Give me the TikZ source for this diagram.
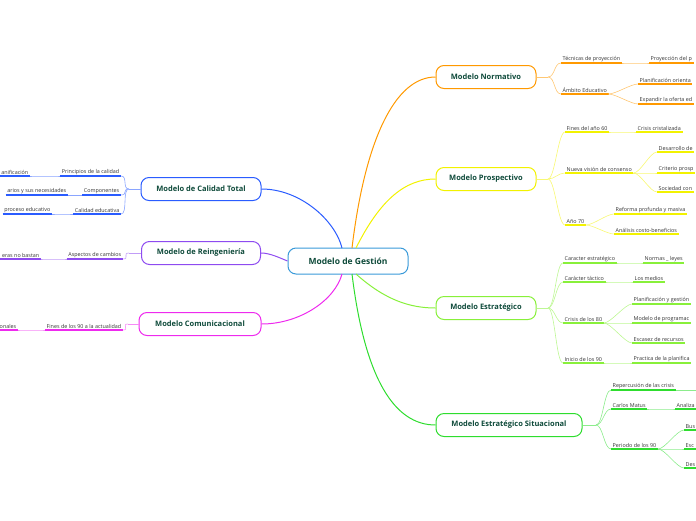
\documentclass[tikz,border=0pt]{standalone}
\usepackage{fontspec}
\setmainfont{Open Sans}
\definecolor{cOr}{HTML}{FF9900}
\definecolor{cYe}{HTML}{F2F200}
\definecolor{cLg}{HTML}{88F03A}
\definecolor{cGr}{HTML}{2EDD2E}
\definecolor{cBl}{HTML}{2A5CFF}
\definecolor{cPu}{HTML}{8E4BF0}
\definecolor{cMa}{HTML}{EE2AEE}
\definecolor{cCe}{HTML}{3A9AD9}
\definecolor{tx}{HTML}{0E4A3A}
\tikzset{
 mainbox/.style={draw=#1,line width=1pt,rounded corners=8pt,fill=white,font=\fontsize{7.5}{9}\selectfont\bfseries,text=tx,minimum height=23pt,inner xsep=8pt},
 lf/.style={font=\fontsize{5.4}{6}\selectfont,text=black!80,inner xsep=1.5pt,inner ysep=1.5pt},
 ul/.style={line width=1.3pt,#1},
 cn/.style={line width=0.6pt,#1!55},
}
% right leaf: name, x, y(underline), text, colour
\newcommand\rleaf[5]{\node[lf,anchor=south west] (#1) at (#2,#3) {#4};\draw[ul=#5] (#1.south west)--(#1.south east);}
\newcommand\lleaf[5]{\node[lf,anchor=south east] (#1) at (#2,#3) {#4};\draw[ul=#5] (#1.south west)--(#1.south east);}
\newcommand\rc[3]{\draw[cn=#3] (#1) .. controls +(7,0) and +(-7,0) .. (#2.south west);}
\newcommand\lc[3]{\draw[cn=#3] (#1) .. controls +(-7,0) and +(7,0) .. (#2.south east);}
\begin{document}
\begin{tikzpicture}[x=1pt,y=-1pt]
\useasboundingbox (0,0) rectangle (696,520);
\node[mainbox=cCe,font=\fontsize{8.5}{10}\selectfont\bfseries,minimum width=120pt,minimum height=26pt] (c) at (348,261) {Modelo de Gestión};
\node[mainbox=cOr,minimum width=100pt] (n) at (486,77) {Modelo Normativo};
\node[mainbox=cYe,minimum width=100pt] (p) at (486,179) {Modelo Prospectivo};
\node[mainbox=cLg,minimum width=100pt] (e) at (486,308) {Modelo Estratégico};
\node[mainbox=cGr,minimum width=146pt] (s) at (509,425) {Modelo Estratégico Situacional};
\node[mainbox=cBl,minimum width=120pt] (q) at (201,189) {Modelo de Calidad Total};
\node[mainbox=cPu,minimum width=119pt] (r) at (201,253) {Modelo de Reingeniería};
\node[mainbox=cMa,minimum width=122pt] (m) at (200,324) {Modelo Comunicacional};
% center connectors
\draw[line width=1pt,cOr] (352,248) .. controls (365,140) and (395,77) .. (n.west);
\draw[line width=1pt,cYe] (356,248) .. controls (380,200) and (405,179) .. (p.west);
\draw[line width=1pt,cLg] (356,274) .. controls (385,300) and (410,308) .. (e.west);
\draw[line width=1pt,cGr] (352,274) .. controls (365,380) and (395,425) .. (s.west);
\draw[line width=1pt,cBl] (q.east) .. controls (300,189) and (335,220) .. (342,248);
\draw[line width=1pt,cPu] (r.east) .. controls (270,253) and (280,258) .. (c.west);
\draw[line width=1pt,cMa] (m.east) .. controls (300,324) and (335,300) .. (342,274);
% Normativo
\coordinate (nb) at (548,77); \draw[cn=cOr,line width=1pt] (n.east)--(nb);
\rleaf{n1}{561}{63}{Técnicas de proyección}{cOr}
\rleaf{n2}{561}{94}{Ámbito Educativo}{cOr}
\rc{nb}{n1}{cOr}\rc{nb}{n2}{cOr}
\rleaf{n11}{649}{63}{Proyección del p}{cOr}\rc{n1.south east}{n11}{cOr}
\rleaf{n21}{638}{84}{Planificación orienta}{cOr}
\rleaf{n22}{638}{104}{Expandir la oferta ed}{cOr}
\rc{n2.south east}{n21}{cOr}\rc{n2.south east}{n22}{cOr}
% Prospectivo
\coordinate (pb) at (548,179); \draw[cn=cYe,line width=1pt] (p.east)--(pb);
\rleaf{p1}{565}{132}{Fines del año 60}{cYe}
\rleaf{p2}{565}{173}{Nueva visión de consenso}{cYe}
\rleaf{p3}{565}{225}{Año 70}{cYe}
\rc{pb}{p1}{cYe}\rc{pb}{p2}{cYe}\rc{pb}{p3}{cYe}
\rleaf{p11}{636}{132}{Crisis cristalizada}{cYe}\rc{p1.south east}{p11}{cYe}
\rleaf{p21}{657}{152}{Desarrollo de}{cYe}
\rleaf{p22}{657}{173}{Criterio prosp}{cYe}
\rleaf{p23}{657}{192}{Sociedad con}{cYe}
\rc{p2.south east}{p21}{cYe}\rc{p2.south east}{p22}{cYe}\rc{p2.south east}{p23}{cYe}
\rleaf{p31}{614}{214}{Reforma profunda y masiva}{cYe}
\rleaf{p32}{614}{234}{Análisis costo-beneficios}{cYe}
\rc{p3.south east}{p31}{cYe}\rc{p3.south east}{p32}{cYe}
% Estrategico
\coordinate (eb) at (548,308); \draw[cn=cLg,line width=1pt] (e.east)--(eb);
\rleaf{e1}{563}{263}{Caracter estratégico}{cLg}
\rleaf{e2}{563}{282}{Carácter táctico}{cLg}
\rleaf{e3}{563}{323}{Crisis de los 80}{cLg}
\rleaf{e4}{563}{363}{Inicio de los 90}{cLg}
\rc{eb}{e1}{cLg}\rc{eb}{e2}{cLg}\rc{eb}{e3}{cLg}\rc{eb}{e4}{cLg}
\rleaf{e11}{643}{263}{Normas \_ leyes}{cLg}\rc{e1.south east}{e11}{cLg}
\rleaf{e21}{633}{282}{Los medios}{cLg}\rc{e2.south east}{e21}{cLg}
\rleaf{e31}{632}{304}{Planificación y gestión}{cLg}
\rleaf{e32}{632}{323}{Modelo de programac}{cLg}
\rleaf{e33}{632}{343}{Escasez de recursos}{cLg}
\rc{e3.south east}{e31}{cLg}\rc{e3.south east}{e32}{cLg}\rc{e3.south east}{e33}{cLg}
\rleaf{e41}{632}{363}{Practica de la planifica}{cLg}\rc{e4.south east}{e41}{cLg}
% Situacional
\coordinate (sb) at (596,425); \draw[cn=cGr,line width=1pt] (s.east)--(sb);
\rleaf{s1}{611}{390}{Repercusión de las crisis}{cGr}
\rleaf{s2}{611}{409}{Carlos Matus}{cGr}
\rleaf{s3}{611}{449}{Periodo de los 90}{cGr}
\rc{sb}{s1}{cGr}\rc{sb}{s2}{cGr}\rc{sb}{s3}{cGr}
\draw[cn=cGr] (s1.south east)--(696,390);
\rleaf{s21}{675}{409}{Analiza}{cGr}\rc{s2.south east}{s21}{cGr}
\rleaf{s31}{684}{430}{Bus}{cGr}
\rleaf{s32}{684}{449}{Esc}{cGr}
\rleaf{s33}{684}{468}{Des}{cGr}
\rc{s3.south east}{s31}{cGr}\rc{s3.south east}{s32}{cGr}\rc{s3.south east}{s33}{cGr}
% Calidad total
\coordinate (qb) at (129,189); \draw[cn=cBl,line width=1pt] (q.west)--(qb);
\lleaf{q1}{121}{176}{Principios de la calidad}{cBl}
\lleaf{q2}{121}{195}{Componentes}{cBl}
\lleaf{q3}{121}{214}{Calidad educativa}{cBl}
\lc{qb}{q1}{cBl}\lc{qb}{q2}{cBl}\lc{qb}{q3}{cBl}
\lleaf{q11}{30}{176}{anificación}{cBl}\lc{q1.south west}{q11}{cBl}
\lleaf{q21}{68}{195}{arios y sus necesidades}{cBl}\lc{q2.south west}{q21}{cBl}
\lleaf{q31}{52}{214}{proceso educativo}{cBl}\lc{q3.south west}{q31}{cBl}
% Reingenieria
\coordinate (rb) at (129,253); \draw[cn=cPu,line width=1pt] (r.west)--(rb);
\lleaf{r1}{123}{259}{Aspectos de cambios}{cPu}\lc{rb}{r1}{cPu}
\lleaf{r11}{41}{259}{eras no bastan}{cPu}\lc{r1.south west}{r11}{cPu}
% Comunicacional
\coordinate (mb) at (128,324); \draw[cn=cMa,line width=1pt] (m.west)--(mb);
\lleaf{m1}{123}{330}{Fines de los 90 a la actualidad}{cMa}\lc{mb}{m1}{cMa}
\lleaf{m11}{18}{330}{onales}{cMa}\lc{m1.south west}{m11}{cMa}
\end{tikzpicture}
\end{document}
